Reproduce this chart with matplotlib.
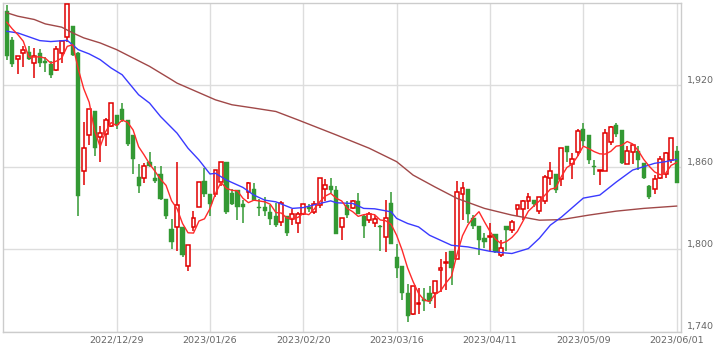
import numpy as np
import pandas as pd
import matplotlib
matplotlib.use('Agg')
import matplotlib.pyplot as plt

plt.rcParams['font.family'] = ['DejaVu Sans']

# 日足 (2022/12/01 - 2023/06/01), x は営業日インデックス
tick_pos = [20, 37, 54, 71, 88, 105, 122]
tick_labels = ['2022/12/29', '2023/01/26', '2023/02/20', '2023/03/16',
               '2023/04/11', '2023/05/09', '2023/06/01']
y_ticks = [1740, 1800, 1860, 1920]

opens = [1974, 1953, 1939, 1943, 1944, 1936, 1943, 1937, 1935, 1931,
         1943, 1955, 1963, 1943, 1857, 1883, 1901, 1882, 1884, 1890,
         1898, 1902, 1894, 1883, 1853, 1852, 1864, 1852, 1855, 1837,
         1815, 1816, 1816, 1788, 1816, 1831, 1850, 1840, 1840, 1849,
         1864, 1841, 1843, 1833, 1842, 1844, 1831, 1831, 1827, 1824,
         1820, 1824, 1822, 1819, 1826, 1831, 1827, 1832, 1844, 1846,
         1843, 1816, 1832, 1830, 1835, 1824, 1821, 1819, 1817, 1809,
         1834, 1794, 1788, 1768, 1753, 1760, 1764, 1768, 1768, 1785,
         1790, 1799, 1793, 1840, 1844, 1823, 1817, 1808, 1809, 1811,
         1796, 1817, 1814, 1829, 1829, 1835, 1836, 1828, 1835, 1852,
         1855, 1851, 1875, 1862, 1871, 1888, 1883, 1861, 1857, 1857,
         1878, 1891, 1887, 1862, 1871, 1872, 1863, 1846, 1844, 1852,
         1855, 1865, 1872]
highs = [1978, 1955, 1941, 1948, 1948, 1947, 1946, 1940, 1937, 1948,
         1953, 1980, 1963, 1944, 1893, 1902, 1901, 1890, 1896, 1907,
         1898, 1907, 1894, 1883, 1862, 1863, 1871, 1861, 1861, 1837,
         1822, 1864, 1816, 1803, 1828, 1849, 1859, 1840, 1858, 1864,
         1864, 1844, 1843, 1836, 1849, 1848, 1837, 1838, 1832, 1834,
         1835, 1824, 1829, 1827, 1833, 1833, 1835, 1852, 1851, 1852,
         1846, 1823, 1835, 1836, 1841, 1825, 1827, 1825, 1818, 1836,
         1842, 1804, 1788, 1775, 1773, 1772, 1772, 1773, 1777, 1793,
         1798, 1799, 1850, 1849, 1844, 1825, 1817, 1812, 1819, 1811,
         1807, 1817, 1821, 1832, 1836, 1841, 1836, 1838, 1854, 1864,
         1855, 1874, 1875, 1870, 1888, 1892, 1883, 1865, 1858, 1888,
         1890, 1892, 1887, 1875, 1877, 1875, 1863, 1847, 1854, 1868,
         1871, 1881, 1875]
lows = [1938, 1933, 1928, 1933, 1938, 1925, 1933, 1929, 1925, 1930,
        1936, 1951, 1941, 1824, 1847, 1876, 1868, 1864, 1875, 1889,
        1888, 1893, 1875, 1855, 1841, 1848, 1860, 1848, 1836, 1822,
        1800, 1799, 1794, 1784, 1813, 1831, 1838, 1824, 1838, 1846,
        1826, 1832, 1821, 1819, 1837, 1835, 1824, 1824, 1818, 1816,
        1817, 1810, 1818, 1812, 1825, 1827, 1826, 1830, 1835, 1841,
        1811, 1807, 1823, 1829, 1826, 1808, 1819, 1816, 1799, 1798,
        1804, 1779, 1763, 1747, 1752, 1753, 1755, 1760, 1757, 1769,
        1770, 1774, 1793, 1821, 1819, 1815, 1796, 1801, 1799, 1797,
        1794, 1799, 1812, 1824, 1821, 1829, 1831, 1826, 1833, 1847,
        1841, 1846, 1864, 1851, 1868, 1875, 1862, 1854, 1847, 1857,
        1876, 1882, 1862, 1862, 1862, 1858, 1851, 1837, 1840, 1851,
        1852, 1863, 1848]
closes = [1941, 1935, 1941, 1945, 1939, 1941, 1936, 1936, 1927, 1946,
          1952, 1979, 1942, 1839, 1874, 1902, 1874, 1885, 1894, 1907,
          1891, 1894, 1877, 1866, 1846, 1861, 1861, 1850, 1837, 1824,
          1805, 1832, 1796, 1803, 1823, 1849, 1840, 1833, 1858, 1864,
          1827, 1833, 1831, 1831, 1848, 1836, 1830, 1828, 1822, 1818,
          1834, 1812, 1826, 1826, 1833, 1829, 1833, 1852, 1847, 1843,
          1811, 1823, 1825, 1835, 1826, 1817, 1826, 1822, 1816, 1823,
          1804, 1786, 1768, 1751, 1773, 1761, 1762, 1762, 1777, 1786,
          1790.5, 1786, 1842, 1845, 1826, 1817, 1807, 1805, 1810, 1798,
          1801, 1814, 1820, 1832, 1835, 1838, 1833, 1838, 1853, 1857,
          1843, 1874, 1871, 1866, 1886, 1879, 1865, 1860, 1858, 1885,
          1889, 1884, 1863, 1872, 1876, 1865, 1852, 1838, 1851, 1866,
          1870, 1881, 1848]

# 5日線の先頭4本 (表示期間外のデータを含むため図から読み取り)
ma5_head = [1965.6, 1960.7, 1956.6, 1951.7]

# 25日線・75日線
ma25_x = [0, 2, 6, 8, 11, 13, 15, 17, 19, 21, 22, 24, 26, 28, 31, 33, 35, 37,
          38, 40, 43, 45, 47, 49, 52, 54, 57, 59, 60, 63, 65, 67, 70, 71, 73,
          75, 77, 81, 84, 88, 90, 92, 95, 97, 99, 101, 105, 108, 111, 114, 116,
          118, 120, 122]
ma25_y = [1959, 1957.8, 1952.2, 1951.5, 1952.4, 1945.6, 1942.5, 1938.3, 1932.2,
          1927.3, 1922.4, 1912.7, 1906.6, 1896.8, 1884.7, 1873.7, 1865.1, 1854.9,
          1855.4, 1850.5, 1845.1, 1839.5, 1835.8, 1834.6, 1829.8, 1830.4, 1833.4,
          1835.3, 1833.9, 1833.4, 1829.8, 1829.5, 1827.3, 1822.5, 1818.8, 1816.3,
          1810.2, 1802.9, 1801.7, 1798.5, 1797.6, 1796.9, 1800.5, 1808, 1817.6,
          1823.4, 1837.3, 1839.5, 1849, 1857.8, 1860.2, 1862.7, 1863.9, 1865.5]
ma75_x = [0, 2, 5, 7, 10, 12, 14, 17, 20, 23, 26, 30, 31, 38, 41, 45, 49, 53,
          60, 66, 71, 74, 78, 82, 87, 92, 97, 101, 106, 111, 116, 122]
ma75_y = [1972.5, 1970, 1967.6, 1964.4, 1962, 1957.8, 1954.2, 1950.5, 1945.6,
          1939.5, 1933.4, 1923.7, 1921.2, 1909, 1905.4, 1903, 1900.5, 1894.4,
          1883.4, 1873.7, 1863.9, 1854.1, 1845.4, 1837.1, 1829.8, 1824.9,
          1821.2, 1821.6, 1824.9, 1827.8, 1829.8, 1831.5]

UP = '#e00000'
DOWN = '#339933'

df = pd.DataFrame({'open': opens, 'high': highs, 'low': lows, 'close': closes})
x = np.arange(len(df))
ma5 = df['close'].rolling(5).mean().values
ma5[:4] = ma5_head

fig = plt.figure(figsize=(7.19, 3.52), dpi=100)
ax = fig.add_axes([3 / 719, 20.5 / 352, 678 / 719, 329 / 352])

up = df['close'] >= df['open']
width = 0.76
body_lo = np.minimum(df['open'], df['close'])
body_h = np.maximum((df['close'] - df['open']).abs(), 0.7)

# ヒゲ
ax.vlines(x[up], df['low'][up], df['high'][up], color=UP, linewidth=1.1, zorder=2)
ax.vlines(x[~up], df['low'][~up], df['high'][~up], color=DOWN, linewidth=1.1, zorder=2)
# 実体
ax.bar(x[up], body_h[up], width * 0.9, bottom=body_lo[up], facecolor='white',
       edgecolor=UP, linewidth=1.1, zorder=3)
ax.bar(x[~up], body_h[~up], width, bottom=body_lo[~up], facecolor=DOWN,
       edgecolor=DOWN, linewidth=0.3, zorder=3)

# 移動平均線
ax.plot(ma75_x, ma75_y, color='#a04848', linewidth=1.0, zorder=4)
ax.plot(ma25_x, ma25_y, color='#3a3aff', linewidth=1.0, zorder=4)
ax.plot(x, ma5, color='#ff2a2a', linewidth=1.0, zorder=5)

ax.set_xlim(-0.7, 122.8)
ax.set_ylim(1740, 1980)

ax.set_xticks(tick_pos)
ax.set_xticklabels(tick_labels)
ax.set_yticks(y_ticks)
ax.set_yticklabels([f'{v:,}' for v in y_ticks])
ax.yaxis.tick_right()
ax.tick_params(axis='both', length=0, labelsize=6.8, labelcolor='#666666')
ax.tick_params(axis='x', pad=3.2)
ax.tick_params(axis='y', pad=4)
for lbl in ax.get_yticklabels():
    lbl.set_verticalalignment('bottom')

ax.grid(True, color='#dddddd', linewidth=1.0, zorder=0)
ax.set_axisbelow(True)
for sp in ax.spines.values():
    sp.set_color('#cccccc')
    sp.set_linewidth(1.0)

plt.savefig('out.png', dpi=100)
